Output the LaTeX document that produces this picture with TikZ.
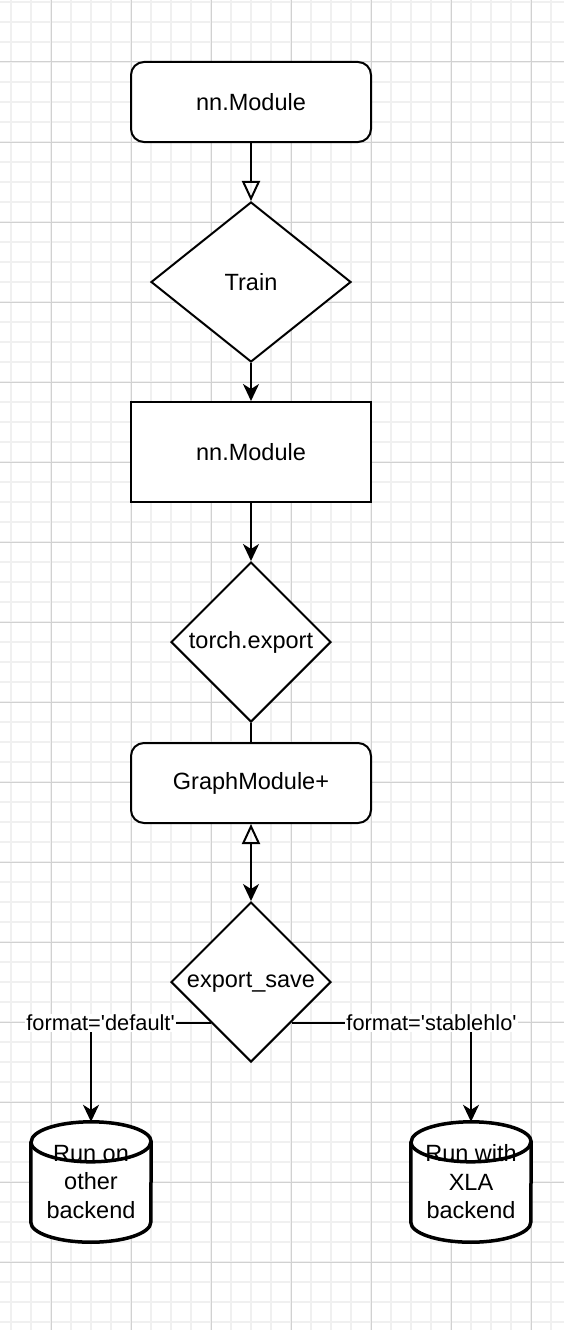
\documentclass[tikz,border=0pt]{standalone}
\usepackage{fontspec}
\setmainfont{Liberation Sans}
\usetikzlibrary{shapes.geometric,arrows.meta,calc}
\pgfdeclarelayer{gridlayer}
\pgfdeclarelayer{bglayer}
\pgfsetlayers{gridlayer,bglayer,main}
\begin{document}
\begin{tikzpicture}[x=1pt,y=1pt,
  txt/.style={font=\fontsize{23.5}{28.5}\selectfont},
  box/.style={txt, draw, line width=2pt, fill=white, minimum width=240pt, minimum height=80pt, inner sep=0pt},
  rbox/.style={box, rounded corners=13pt},
  dec/.style={txt, draw, diamond, line width=2pt, fill=white, inner sep=0pt},
  cylbox/.style={txt, align=center, minimum width=120pt, minimum height=120pt, inner sep=0pt},
  cylline/.style={line width=3.5pt, line join=round},
  edge/.style={line width=2pt},
  fillarrow/.style={-{Stealth[length=17pt,width=16pt,inset=5pt]}},
  lbl/.style={font=\fontsize{21.8}{26}\selectfont, fill=white, inner sep=1pt},
  minorline/.style={draw=black!6, line width=1.6pt},
  majorline/.style={draw=black!18, line width=1pt}
]
\useasboundingbox (0,0) rectangle (564,-1330);
\begin{pgfonlayer}{gridlayer}
  \fill[white] (0,0) rectangle (564,-1330);
  \foreach \x in {11,31,...,551} \draw[minorline] (\x,0) -- (\x,-1330);
  \foreach \y in {2,22,...,1322} \draw[minorline] (0,-\y) -- (564,-\y);
  \foreach \x in {51,131,...,531} \draw[majorline] (\x,0) -- (\x,-1330);
  \foreach \y in {62,142,...,1262} \draw[majorline] (0,-\y) -- (564,-\y);
\end{pgfonlayer}

\node[rbox] (m1) at (251,-102) {nn.Module};
\node[dec, minimum width=200pt, minimum height=160pt, aspect=1.25] (train) at (251,-282) {Train};
\node[box, minimum height=100pt] (m2) at (251,-452) {nn.Module};
\node[dec, minimum width=160pt, minimum height=160pt, aspect=1] (tex) at (251,-642) {torch.export};
\node[rbox] (gm) at (251,-783) {GraphModule+};
\node[dec, minimum width=160pt, minimum height=160pt, aspect=1] (es) at (251,-982) {export\_save};
\node[cylbox] (db1) at (91,-1182) {Run on\\other\\backend};
\node[cylbox] (db2) at (471,-1182) {Run with\\XLA\\backend};

\begin{pgfonlayer}{bglayer}
\foreach \n in {db1,db2} {
  \draw[cylline, fill=white] ($(\n.north west)+(0,-20)$) -- ($(\n.south west)+(0,20)$)
     arc[start angle=180, end angle=360, x radius=60, y radius=20]
     -- ($(\n.north east)+(0,-20)$)
     arc[start angle=0, end angle=180, x radius=60, y radius=20] -- cycle;
  \draw[cylline] ($(\n.north west)+(0,-20)$)
     arc[start angle=180, end angle=360, x radius=60, y radius=20];
}
\end{pgfonlayer}

\draw[edge, -{Triangle[open,length=20pt,width=18pt]}] (m1) -- (train);
\draw[edge, fillarrow] (train) -- (m2);
\draw[edge, fillarrow] (m2) -- (tex);
\draw[edge] (tex) -- (gm);
\draw[edge, {Triangle[open,length=20pt,width=18pt]}-{Stealth[length=17pt,width=16pt,inset=5pt]}] (gm) -- (es);

\coordinate (esl) at ($(es.west)!0.5!(es.south)$);
\coordinate (esr) at ($(es.east)!0.5!(es.south)$);
\draw[edge, fillarrow] (esl) -| node[lbl, pos=0.46] (l1) {format=\textquotesingle default\textquotesingle} (db1.north);
\draw[edge, fillarrow] (esr) -| node[lbl, pos=0.39] (l2) {format=\textquotesingle stablehlo\textquotesingle} (db2.north);
\end{tikzpicture}
\end{document}
